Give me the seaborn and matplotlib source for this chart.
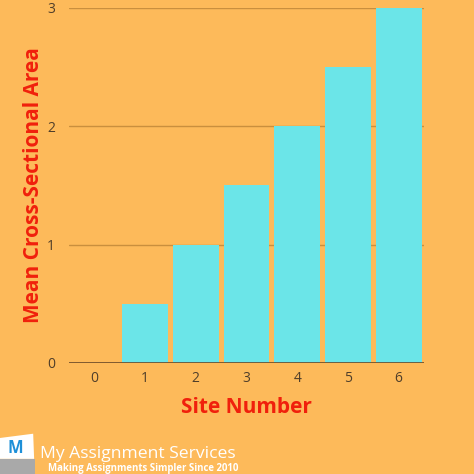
"""
bar chart of mean cross-sectional area by site number
"""

import matplotlib
matplotlib.use("Agg")
import matplotlib.pyplot as plt
import matplotlib.patches as mpatches
import seaborn as sns
import pandas as pd

# data
site_numbers = [0, 1, 2, 3, 4, 5, 6]
mean_area = [0, 0.5, 1.0, 1.5, 2.0, 2.5, 3.0]
y_ticks = [0, 1, 2, 3]

bg = "#FDBA5A"
bar_color = "#6BE5E8"
label_red = "#F0200C"
tick_color = "#4F3E2A"
grid_color = "#C98F3E"

sns.set_style("white")
plt.rcParams["font.family"] = ["Open Sans", "DejaVu Sans"]

df = pd.DataFrame({"site": site_numbers, "area": mean_area})

fig = plt.figure(figsize=(4.74, 4.74), dpi=100, facecolor=bg)
ax = fig.add_axes([0.1456, 0.2342, 0.749, 0.749])
ax.set_facecolor(bg)

ax.set_axisbelow(True)
for t in y_ticks[1:]:
    ax.axhline(t, color=grid_color, lw=1.0, zorder=0)

sns.barplot(data=df, x="site", y="area", color=bar_color, saturation=1,
            width=0.9, edgecolor="none", linewidth=0, ax=ax, zorder=2)
ax.axhline(0, color="#6A4A28", lw=1.2, zorder=3)

ax.set_ylim(0, 3)
ax.set_xlim(-0.5, 6.5)
ax.set_yticks(y_ticks)
for s in ax.spines.values():
    s.set_visible(False)
ax.tick_params(axis="both", length=0, labelsize=10, colors=tick_color)
ax.tick_params(axis="y", pad=10)
ax.tick_params(axis="x", pad=6)

ax.set_xlabel("Site Number", fontsize=15, fontweight="bold", color=label_red, labelpad=8)
ax.set_ylabel("Mean Cross-Sectional Area", fontsize=15, fontweight="bold",
              color=label_red, labelpad=2)

# watermark in the lower left corner
logo = mpatches.Polygon([[0.0, 0.032], [0.072, 0.032], [0.070, 0.085], [0.0, 0.076]],
                        closed=True, transform=fig.transFigure, facecolor="white",
                        edgecolor="none")
fig.patches.append(logo)
strip = mpatches.Rectangle((0.0, 0.0), 0.074, 0.032, transform=fig.transFigure,
                           facecolor="#A9A9A9", edgecolor="none")
fig.patches.append(strip)
fig.text(0.033, 0.055, "M", fontsize=12, fontweight="bold", color="#1E90D8",
         ha="center", va="center")
fig.text(0.084, 0.034, "My Assignment Services", fontsize=12.6, color="white",
         ha="left", va="baseline")
fig.text(0.101, 0.006, "Making Assignments Simpler Since 2010", fontsize=6.9,
         fontweight="bold", color="white", ha="left", va="baseline")

fig.savefig("out.png", dpi=100, facecolor=bg)
plt.close(fig)
